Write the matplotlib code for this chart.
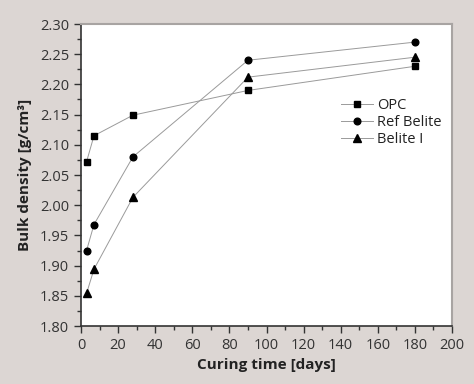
import matplotlib
matplotlib.use("Agg")
import matplotlib.pyplot as plt
from matplotlib.ticker import MultipleLocator, FormatStrFormatter

plt.rcParams['font.family'] = ['Open Sans', 'DejaVu Sans']

days = [3, 7, 28, 90, 180]
opc = [2.072, 2.115, 2.149, 2.190, 2.230]
ref_belite = [1.925, 1.968, 2.080, 2.240, 2.270]
belite_i = [1.854, 1.894, 2.013, 2.212, 2.245]

bg = '#dcd6d3'
fig = plt.figure(figsize=(4.74, 3.84), dpi=100, facecolor=bg)
ax = fig.add_axes([81/474, 1-326/384, (452-81)/474, (326-24)/384])
ax.set_facecolor('white')

lc = '#9a9a9a'
ax.plot(days, opc, color=lc, lw=0.7, marker='s', ms=4.2, mfc='black', mec='black', label='OPC')
ax.plot(days, ref_belite, color=lc, lw=0.7, marker='o', ms=4.8, mfc='black', mec='black', label='Ref Belite')
ax.plot(days, belite_i, color=lc, lw=0.7, marker='^', ms=5.2, mfc='black', mec='black', label='Belite I')

ax.set_xlim(0, 200)
ax.set_ylim(1.80, 2.30)
ax.xaxis.set_major_locator(MultipleLocator(20))
ax.xaxis.set_minor_locator(MultipleLocator(10))
ax.yaxis.set_major_locator(MultipleLocator(0.05))
ax.yaxis.set_minor_locator(MultipleLocator(0.025))
ax.yaxis.set_major_formatter(FormatStrFormatter('%.2f'))

ax.tick_params(which='both', direction='out', top=False, right=False, color='#333333', labelsize=10.5, labelcolor='#333333')
ax.tick_params(which='major', length=5, width=1)
ax.tick_params(which='minor', length=3, width=1)
for s in ['left', 'bottom']:
    ax.spines[s].set_color('#333333')
    ax.spines[s].set_linewidth(1.2)
for s in ['top', 'right']:
    ax.spines[s].set_color('#a8a4a2')
    ax.spines[s].set_linewidth(1.5)

ax.set_xlabel('Curing time [days]', fontsize=11, fontweight='bold', color='#222222', labelpad=4)
ax.set_ylabel('Bulk density [g/cm³]', fontsize=11, fontweight='bold', color='#222222', labelpad=6)

leg = ax.legend(loc='upper left', bbox_to_anchor=(0.68, 0.78), frameon=False, fontsize=10.5,
                handlelength=2.2, handletextpad=0.3, labelspacing=0.15, borderpad=0)
for t in leg.get_texts():
    t.set_color('#222222')

fig.savefig('out.png', dpi=100, facecolor=bg)
